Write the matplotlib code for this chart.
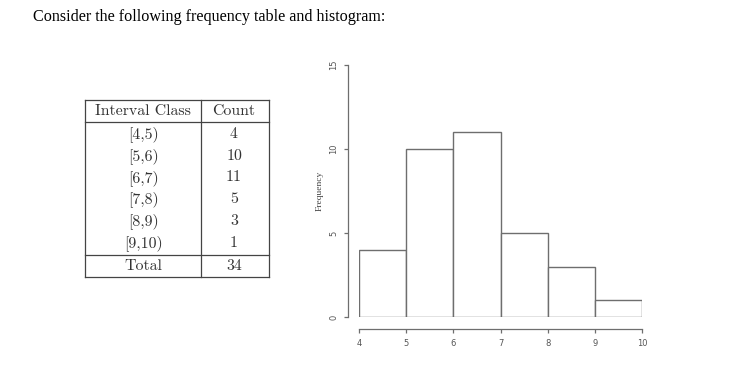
import matplotlib
matplotlib.use("Agg")
import matplotlib.pyplot as plt

# data
intervals = ["[4,5)", "[5,6)", "[6,7)", "[7,8)", "[8,9)", "[9,10)"]
edges = [4, 5, 6, 7, 8, 9, 10]
counts = [4, 10, 11, 5, 3, 1]
y_ticks = [0, 5, 10, 15]
x_ticks = [4, 5, 6, 7, 8, 9, 10]

W, H = 739, 384
fig = plt.figure(figsize=(W / 100, H / 100), dpi=100)
fig.patch.set_facecolor("white")

# overlay in pixel coords for title and table
bg = fig.add_axes([0, 0, 1, 1])
bg.set_xlim(0, W)
bg.set_ylim(H, 0)
bg.axis("off")

bg.text(33, 17, "Consider the following frequency table and histogram:",
        family="Liberation Serif", fontsize=11.6, va="center", ha="left", color="black")

# table
line_c = "#444444"
tx0, tx1, tmid = 85, 269, 201
ty_top, ty_head, ty_tot, ty_bot = 100, 122, 255, 277
lw = 0.9
for y in [ty_top, ty_head, ty_tot, ty_bot]:
    bg.plot([tx0, tx1], [y, y], color=line_c, lw=lw)
for x in [tx0, tmid, tx1]:
    bg.plot([x, x], [ty_top, ty_bot], color=line_c, lw=lw)

tfont = dict(family="cmr10", fontsize=11.4, color="#333333", va="center", ha="center")
c1, c2 = 143, 234
bg.text(c1, 111, "Interval Class", **tfont)
bg.text(c2, 111, "Count", **tfont)
row_y0, row_dy = 134, 21.8
for i, (lab, c) in enumerate(zip(intervals, counts)):
    bg.text(c1, row_y0 + i * row_dy, lab, **tfont)
    bg.text(c2, row_y0 + i * row_dy, str(c), **tfont)
bg.text(c1, 266, "Total", **tfont)
bg.text(c2, 266, str(sum(counts)), **tfont)

# histogram, R style
px_x0, px_x1 = 359, 642
px_y0, px_y15 = 317, 65
ax = fig.add_axes([px_x0 / W, (H - px_y0) / H, (px_x1 - px_x0) / W, (px_y0 - px_y15) / H])
ax.set_facecolor("none")
ax.bar(edges[:-1], counts, width=1, align="edge", facecolor="white",
       edgecolor="#6e6e6e", linewidth=1.0)
ax.set_xlim(4, 10)
ax.set_ylim(0, 15)
for s in ["top", "right"]:
    ax.spines[s].set_visible(False)
ax.spines["left"].set_position(("outward", 8))
ax.spines["bottom"].set_position(("outward", 8.5))
ax.spines["left"].set_bounds(0, 15)
ax.spines["bottom"].set_bounds(4, 10)
for s in ["left", "bottom"]:
    ax.spines[s].set_color("#6e6e6e")
    ax.spines[s].set_linewidth(0.9)
ax.set_xticks(x_ticks)
ax.set_yticks(y_ticks)
ax.set_yticklabels([str(v) for v in y_ticks], rotation=90, va="center")
ax.tick_params(axis="both", colors="#6e6e6e", labelcolor="#555555", labelsize=6,
               length=3, width=0.9, pad=4)
ax.set_ylabel("Frequency", fontsize=6.8, color="#444444", family="Liberation Serif", labelpad=4)

fig.savefig("out.png", dpi=100)
